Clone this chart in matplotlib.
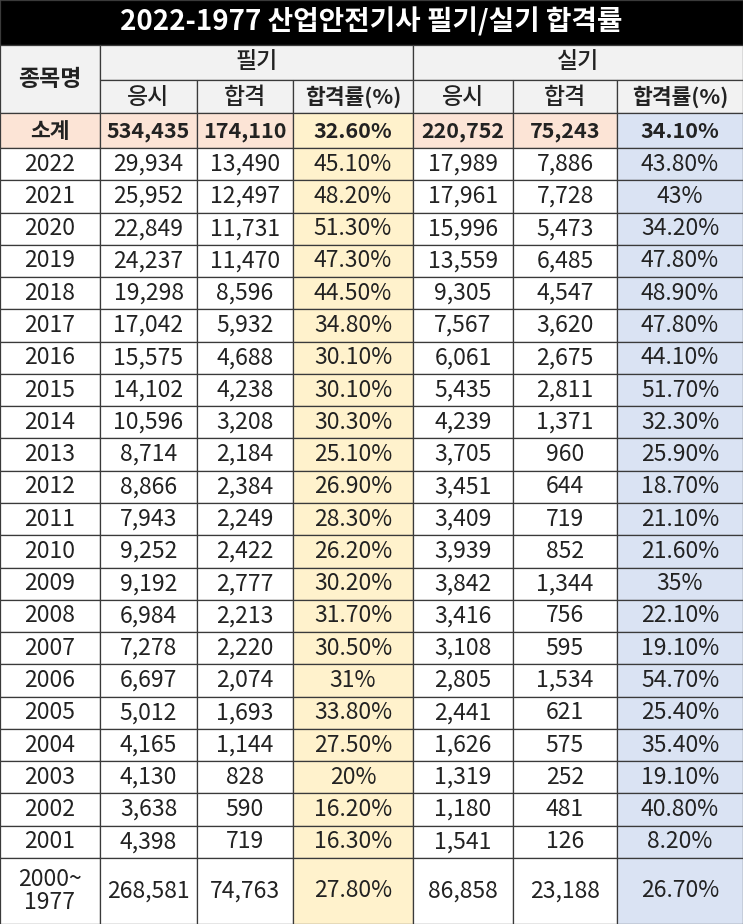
import matplotlib.pyplot as plt
from matplotlib.patches import Rectangle

plt.rcParams["font.family"] = ["Noto Sans CJK JP", "Noto Sans CJK KR", "Noto Sans CJK SC", "DejaVu Sans"]

title = "2022-1977 산업안전기사 필기/실기 합격률"
years = ["2022", "2021", "2020", "2019", "2018", "2017", "2016", "2015", "2014", "2013",
         "2012", "2011", "2010", "2009", "2008", "2007", "2006", "2005", "2004", "2003",
         "2002", "2001", "2000~\n1977"]
written_apply = ["29,934", "25,952", "22,849", "24,237", "19,298", "17,042", "15,575", "14,102",
                 "10,596", "8,714", "8,866", "7,943", "9,252", "9,192", "6,984", "7,278", "6,697",
                 "5,012", "4,165", "4,130", "3,638", "4,398", "268,581"]
written_pass = ["13,490", "12,497", "11,731", "11,470", "8,596", "5,932", "4,688", "4,238",
                "3,208", "2,184", "2,384", "2,249", "2,422", "2,777", "2,213", "2,220", "2,074",
                "1,693", "1,144", "828", "590", "719", "74,763"]
written_rate = ["45.10%", "48.20%", "51.30%", "47.30%", "44.50%", "34.80%", "30.10%", "30.10%",
                "30.30%", "25.10%", "26.90%", "28.30%", "26.20%", "30.20%", "31.70%", "30.50%",
                "31%", "33.80%", "27.50%", "20%", "16.20%", "16.30%", "27.80%"]
practical_apply = ["17,989", "17,961", "15,996", "13,559", "9,305", "7,567", "6,061", "5,435",
                   "4,239", "3,705", "3,451", "3,409", "3,939", "3,842", "3,416", "3,108", "2,805",
                   "2,441", "1,626", "1,319", "1,180", "1,541", "86,858"]
practical_pass = ["7,886", "7,728", "5,473", "6,485", "4,547", "3,620", "2,675", "2,811",
                  "1,371", "960", "644", "719", "852", "1,344", "756", "595", "1,534", "621",
                  "575", "252", "481", "126", "23,188"]
practical_rate = ["43.80%", "43%", "34.20%", "47.80%", "48.90%", "47.80%", "44.10%", "51.70%",
                  "32.30%", "25.90%", "18.70%", "21.10%", "21.60%", "35%", "22.10%", "19.10%",
                  "54.70%", "25.40%", "35.40%", "19.10%", "40.80%", "8.20%", "26.70%"]
total_row = ["소계", "534,435", "174,110", "32.60%", "220,752", "75,243", "34.10%"]
sub_headers = ["응시", "합격", "합격률(%)"]

W, H = 743, 924
fig = plt.figure(figsize=(W / 100, H / 100), dpi=100)
ax = fig.add_axes([0, 0, 1, 1])
ax.set_xlim(0, W)
ax.set_ylim(H, 0)
ax.axis("off")

xs = [0, 100, 197, 293, 413, 513, 617, 743]
line = "#3a3a3a"
yellow = "#fff2cc"
blue = "#dae3f3"
salmon = "#fce4d6"
fs = 16.5

def rect(x0, y0, x1, y1, fc):
    ax.add_patch(Rectangle((x0, y0), x1 - x0, y1 - y0, facecolor=fc, edgecolor=line, lw=0.9))

def text(x, y, s, bold=False, color="#222222", size=fs, weight=None):
    ax.text(x, y, s, ha="center", va="center", fontsize=size, color=color,
            fontweight=weight or ("bold" if bold else "normal"), linespacing=0.95)

# title
rect(0, 0, W, 45, "black")
text(W / 2, 22, title, bold=True, color="white", size=20)

# header
rect(xs[0], 45, xs[1], 113, "#f2f2f2")
text(50, 79, "종목명", bold=True)
rect(xs[1], 45, xs[4], 80, "#f2f2f2")
rect(xs[4], 45, xs[7], 80, "#f2f2f2")
text((xs[1] + xs[4]) / 2, 62, "필기", weight="medium")
text((xs[4] + xs[7]) / 2, 62, "실기", weight="medium")
for i in range(6):
    rect(xs[i + 1], 80, xs[i + 2], 113, "#f2f2f2")
    text((xs[i + 1] + xs[i + 2]) / 2, 97, sub_headers[i % 3],
         weight="bold" if i % 3 == 2 else "medium", size=fs if i % 3 < 2 else 15.5)

# total row
for i, s in enumerate(total_row):
    fc = yellow if i == 3 else blue if i == 6 else salmon
    rect(xs[i], 113, xs[i + 1], 148, fc)
    text((xs[i] + xs[i + 1]) / 2, 131, s, bold=True, size=15.5)

# data rows
rh = (858 - 148) / 22
y = 148
for r in range(len(years)):
    h = rh if r < 22 else H - 858
    vals = [years[r], written_apply[r], written_pass[r], written_rate[r],
            practical_apply[r], practical_pass[r], practical_rate[r]]
    for i, s in enumerate(vals):
        fc = yellow if i == 3 else blue if i == 6 else "white"
        rect(xs[i], y, xs[i + 1], y + h, fc)
        text((xs[i] + xs[i + 1]) / 2, y + h / 2, s)
    y += h

fig.savefig("out.png", dpi=100)
